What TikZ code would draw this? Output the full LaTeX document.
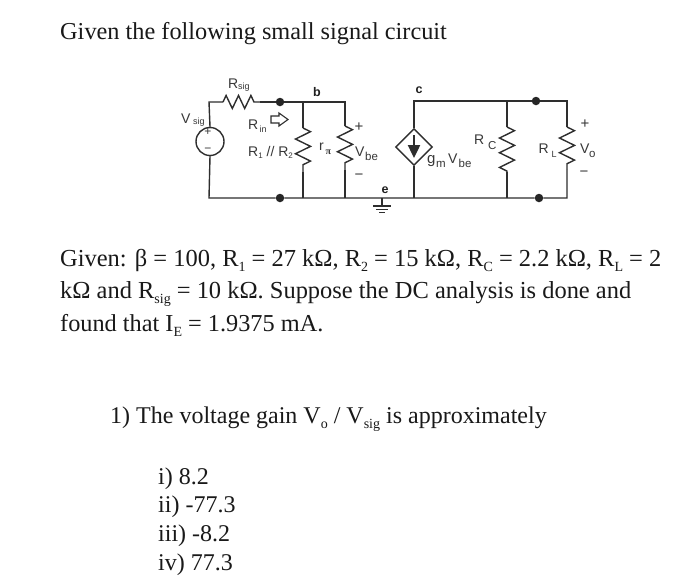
\documentclass[tikz,border=0pt]{standalone}
\usepackage{fontspec}
\setmainfont{Liberation Serif}
\newfontfamily\cirfont{Liberation Sans}
\usetikzlibrary{decorations.pathmorphing,arrows.meta,shapes.geometric}
\newcommand{\sbs}[1]{\raisebox{-5pt}{\fontsize{14}{14}\selectfont #1}}
\tikzset{
  wire/.style={draw=black!82, line width=1.4pt},
  res/.style={wire, decoration={zigzag, segment length=14.7pt, amplitude=7.5pt}, decorate},
  resh/.style={wire, decoration={zigzag, segment length=12.4pt, amplitude=6.5pt}, decorate},
  dotn/.style={circle, fill=black!85, inner sep=0pt, minimum size=8.5pt},
  txt/.style={anchor=base west, inner sep=0pt, text=black!90, font=\fontsize{24.3}{24}\selectfont},
  txtw/.style={txt, font=\fontsize{24.45}{24}\selectfont},
  txtn/.style={txt, font=\fontsize{24}{24}\selectfont},
  cl/.style={inner sep=0pt, anchor=base west, text=black!78, font=\cirfont\fontsize{14}{14}\selectfont},
  csub/.style={inner sep=0pt, anchor=base west, text=black!78, font=\cirfont\fontsize{9}{9}\selectfont},
  csubb/.style={inner sep=0pt, anchor=base west, text=black!78, font=\cirfont\fontsize{11.5}{12}\selectfont},
  sgn/.style={inner sep=0pt, text=black!78, font=\cirfont\fontsize{15}{15}\selectfont},
  cb/.style={inner sep=0pt, text=black!88, font=\cirfont\bfseries\fontsize{12.5}{13}\selectfont},
}
\begin{document}
\begin{tikzpicture}[x=1pt,y=-1pt]
\useasboundingbox[fill=white] (0,0) rectangle (674,576);
% text
\node[txt] (t1) at (60,39) {Given the following small signal circuit};
\node[txtw] (t2) at (60,266) {Given: β = 100, R\sbs{1} = 27 kΩ, R\sbs{2} = 15 kΩ, R\sbs{C} = 2.2 kΩ, R\sbs{L} = 2};
\node[txtw] (t3) at (60,298) {kΩ and R\sbs{sig} = 10 kΩ. Suppose the DC analysis is done and};
\node[txt] (t4) at (60,331.5) {found that I\sbs{E} = 1.9375 mA.};
\node[txtn] (t5) at (110,423) {1) The voltage gain V\sbs{o} / V\sbs{sig} is approximately};
\node[txtn] (t6) at (158,484) {i) 8.2};
\node[txtn] (t7) at (158,512) {ii) -77.3};
\node[txtn] (t8) at (158,541) {iii) -8.2};
\node[txtn] (t9) at (158,570) {iv) 77.3};
% junctions
\coordinate (tl) at (209,102); \coordinate (bl) at (209,198);
\node[dotn] (d1) at (280,102) {}; \node[dotn] (d2) at (280,198) {};
\coordinate (rs1) at (223,102); \coordinate (rs2) at (260,102);
\coordinate (t12) at (303,102); \coordinate (b12) at (303,198);
\coordinate (r1a) at (303,128); \coordinate (r1b) at (303,172);
\coordinate (tpi) at (345,102); \coordinate (bpi) at (345,198);
\coordinate (r2a) at (345,126); \coordinate (r2b) at (345,170);
\coordinate (gnd) at (382,198); \coordinate (gnd2) at (382,206);
\coordinate (tc) at (414,101); \coordinate (bc) at (414,198);
\coordinate (trc) at (507,101); \coordinate (brc) at (507,198);
\coordinate (rca) at (507,127); \coordinate (rcb) at (507,172);
\node[dotn] (d3) at (536,101) {}; \node[dotn] (d4) at (539,198) {};
\coordinate (trl) at (567,101); \coordinate (brl) at (567,198);
\coordinate (rla) at (567,127); \coordinate (rlb) at (567,169);
% sources
\node[circle, wire, minimum size=28pt, inner sep=0pt] (vs) at (210,141.5) {};
\node[diamond, wire, aspect=1, minimum size=37pt, inner sep=0pt] (cs) at (414,147) {};
% wires
\draw[wire] (vs.north) -- (tl) -- (rs1);
\draw[resh] (rs1) -- (rs2);
\draw[wire] (rs2) -- (d1) -- (t12) -- (tpi) -- (r2a);
\draw[wire] (t12) -- (r1a);
\draw[res] (r1a) -- (r1b);
\draw[res] (r2a) -- (r2b);
\draw[wire] (r1b) -- (b12);
\draw[wire] (r2b) -- (bpi);
\draw[wire] (vs.south) -- (bl) -- (d2) -- (gnd) -- (d4) -- (brl) -- (rlb);
\draw[wire] (gnd) -- (gnd2);
\draw[wire] (373,206) -- (391,206);
\draw[wire, line width=1pt] (376,209) -- (388,209);
\draw[wire, line width=1pt] (379,212) -- (385,212);
\draw[wire] (cs.north) -- (tc) -- (d3) -- (trl) -- (rla);
\draw[wire] (cs.south) -- (bc);
\draw[wire] (trc) -- (rca);
\draw[res] (rca) -- (rcb);
\draw[wire] (rcb) -- (brc);
\draw[res] (rla) -- (rlb);
% arrow in dependent source
\draw[wire, line width=2.4pt, -{Triangle[width=12pt,length=13pt]}] (414,135) -- (414,158);
% hollow arrow Rin
\draw[wire, line width=1.1pt] (271,116) -- (279,116) -- (279,113) -- (288,119.5) -- (279,126) -- (279,123) -- (271,123) -- cycle;
% source polarity
\node[sgn, font=\cirfont\fontsize{12}{12}\selectfont] (sp) at (208,132) {+};
\node[sgn, font=\cirfont\fontsize{12}{12}\selectfont] (sm) at (208,150) {−};
% labels
\node[cl] (lrs) at (228,88.5) {R}; \node[csub] (lrs2) at (238,89) {sig};
\node[cb] (lb) at (317,92) {b};
\node[cb] (lc) at (419,90) {c};
\node[cb] (le) at (385,190) {e};
\node[cl] (lvs) at (181,123) {V}; \node[csub] (lvs2) at (193,124) {sig};
\node[cl] (lrin) at (248,129) {R}; \node[csub] (lrin2) at (259.5,132.5) {in};
\node[cl] (lr12) at (248,156) {R\raisebox{-2pt}{\fontsize{8}{8}\selectfont 1} // R\raisebox{-2pt}{\fontsize{8}{8}\selectfont 2}};
\node[cl] (lrpi) at (319,150) {r}; \node[csub, font=\bfseries\fontsize{10}{10}\selectfont] (lpi) at (325.5,154.5) {π};
\node[cl] (lvbe) at (355,156) {V}; \node[csubb] (lvbe2) at (365,160) {be};
\node[sgn] (vp) at (359,127) {+};
\node[sgn] (vm) at (359,177) {−};
\node[cl, font=\cirfont\fontsize{15}{15}\selectfont] (lgm) at (427,163) {g}; \node[csubb] (lgm2) at (436,167) {m};
\node[cl] (lvb2) at (448,163) {V}; \node[csubb] (lvb3) at (458.5,167) {be};
\node[cl] (lrc) at (474,144) {R}; \node[csubb] (lrc2) at (488,149) {C};
\node[cl] (lrl) at (538.5,153) {R}; \node[csub] (lrl2) at (551.5,157) {L};
\node[sgn] (op) at (585,124) {+};
\node[cl] (lvo) at (580,153) {V}; \node[csubb] (lvo2) at (589,157) {o};
\node[sgn] (om) at (584,174) {−};
\end{tikzpicture}
\end{document}
